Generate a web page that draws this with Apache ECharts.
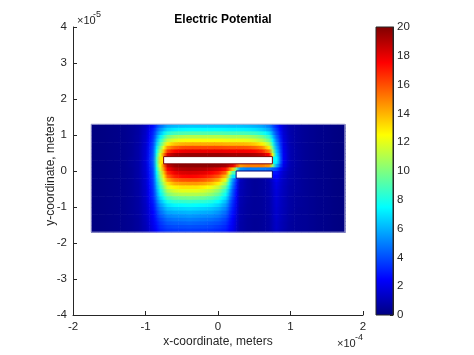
<!DOCTYPE html>
<html>
<head>
<meta charset="utf-8">
<script src="https://cdn.jsdelivr.net/npm/echarts@6/dist/echarts.min.js"></script>
<style>
  html, body { margin: 0; background: #fff; }
  #chart { width: 474px; height: 355px; }
</style>
</head>
<body>
<div id="chart"></div>
<script>
// x in units of 1e-4 m, y in units of 1e-5 m, potential in volts
const xCenters = [-1.7, -1.6, -1.5, -1.4, -1.3, -1.2, -1.1, -1.0, -0.9, -0.8, -0.7, -0.6, -0.5, -0.4, -0.3, -0.2, -0.1, 0,
  0.1, 0.2, 0.3, 0.4, 0.5, 0.6, 0.7, 0.8, 0.9, 1.0, 1.1, 1.2, 1.3, 1.4, 1.5, 1.6, 1.7]
const yCenters = [1.25, 1.15, 1.05, 0.95, 0.85, 0.75, 0.65, 0.55, 0.45, 0.35, 0.25, 0.15, 0.05, -0.05, -0.15,
  -0.25, -0.35, -0.45, -0.55, -0.65, -0.75, -0.85, -0.95, -1.05, -1.15, -1.25, -1.35, -1.45, -1.55, -1.65]

// one row per yCenters entry, one value per xCenters entry (null = inside an electrode)
const _ = null
const potential = [
  [0.05,0.1,0.15,0.2,0.3,0.45, 0.65,1.3,2.7,4.6, 5.8,6.1,6.3,6.4,6.4,6.4,6.4, 6.4,6.4,6.3, 6.3,6.2,6.0,5.7,5.0, 3.2,1.5,0.8,0.6, 0.45,0.35,0.25,0.2,0.1,0.05],
  [0.05,0.1,0.15,0.2,0.3,0.45, 0.7,1.4,3.0,5.4, 6.8,7.2,7.4,7.5,7.5,7.5,7.5, 7.5,7.4,7.3, 7.3,7.2,7.0,6.6,5.8, 3.6,1.6,0.85,0.6, 0.45,0.35,0.25,0.2,0.1,0.05],
  [0.05,0.1,0.15,0.2,0.3,0.45, 0.7,1.45,3.2,6.2, 8.2,8.8,9.0,9.1,9.1,9.1,9.1, 9.1,9.0,8.9, 8.9,8.8,8.6,8.1,7.0, 4.0,1.7,0.85,0.6, 0.45,0.35,0.25,0.2,0.1,0.05],
  [0.05,0.1,0.15,0.2,0.3,0.45, 0.75,1.5,3.4,7.2, 9.8,10.6,10.9,11.0,11.0,11.0,11.0, 11.0,10.9,10.8, 10.8,10.7,10.4,9.8,8.4, 4.5,1.8,0.9,0.6, 0.45,0.35,0.25,0.2,0.1,0.05],
  [0.05,0.1,0.15,0.2,0.3,0.45, 0.75,1.55,3.6,8.2, 11.2,12.0,12.3,12.4,12.4,12.4,12.4, 12.4,12.3,12.2, 12.2,12.1,11.8,11.1,9.6, 5.0,1.9,0.9,0.6, 0.45,0.35,0.25,0.2,0.1,0.05],
  [0.05,0.1,0.15,0.2,0.3,0.45, 0.75,1.6,3.8,9.0, 12.8,13.7,14.0,14.1,14.1,14.1,14.1, 14.1,14.0,13.9, 13.9,13.8,13.5,12.8,11.0, 5.5,2.0,0.9,0.6, 0.45,0.35,0.25,0.2,0.1,0.05],
  [0.05,0.1,0.15,0.2,0.3,0.45, 0.8,1.65,4.0,10.0, 14.6,15.6,16.0,16.1,16.1,16.1,16.1, 16.1,16.0,15.9, 15.9,15.8,15.5,14.8,12.8, 6.0,2.1,0.95,0.6, 0.45,0.35,0.25,0.2,0.1,0.05],
  [0.05,0.1,0.15,0.2,0.3,0.45, 0.8,1.7,4.1,11.0, 16.4,17.4,17.8,17.9,17.9,17.9,17.9, 17.9,17.8,17.7, 17.7,17.6,17.4,16.8,15.0, 6.5,2.2,0.95,0.65, 0.45,0.35,0.25,0.2,0.1,0.05],
  [0.05,0.1,0.15,0.2,0.3,0.45, 0.8,1.7,4.2,12.0, 18.2,19.1,19.4,19.5,19.5,19.5,19.5, 19.5,19.4,19.3, 19.3,19.3,19.1,18.7,17.5, 7.0,2.3,0.95,0.65, 0.45,0.35,0.25,0.2,0.1,0.05],
  [0.05,0.1,0.15,0.2,0.3,0.5, 0.8,1.75,4.3,13.0, _,_,_,_,_,_,_, _,_,_, _,_,_,_,_, 7.5,2.3,0.95,0.65, 0.45,0.35,0.25,0.2,0.1,0.05],
  [0.05,0.1,0.15,0.2,0.3,0.5, 0.8,1.75,4.3,13.0, _,_,_,_,_,_,_, _,_,_, _,_,_,_,_, 7.3,2.3,0.95,0.65, 0.45,0.35,0.25,0.2,0.1,0.05],
  [0.05,0.1,0.15,0.2,0.3,0.5, 0.8,1.7,4.2,12.4, 18.6,19.5,19.7,19.7,19.7,19.7,19.7, 19.6,19.3,18.0, 14.5,15.0,15.0,15.0,14.5, 6.0,2.1,0.95,0.65, 0.45,0.35,0.25,0.2,0.1,0.05],
  [0.05,0.1,0.15,0.2,0.3,0.45, 0.8,1.7,4.0,11.6, 17.6,18.7,19.0,19.1,19.0,18.9,18.6, 18.2,17.2,13.5, 5.5,5.0,5.0,5.0,4.8, 3.8,1.8,0.9,0.6, 0.45,0.35,0.25,0.2,0.1,0.05],
  [0.05,0.1,0.15,0.2,0.3,0.45, 0.8,1.65,3.9,10.8, 16.6,17.8,18.2,18.3,18.2,18.0,17.6, 17.0,15.5,9.0, _,_,_,_,_, 2.8,1.5,0.85,0.6, 0.45,0.35,0.25,0.2,0.1,0.05],
  [0.05,0.1,0.15,0.2,0.3,0.45, 0.8,1.6,3.8,10.2, 15.6,16.9,17.4,17.5,17.4,17.1,16.6, 15.8,13.8,7.0, _,_,_,_,_, 2.5,1.4,0.8,0.6, 0.45,0.35,0.25,0.2,0.1,0.05],
  [0.05,0.1,0.15,0.2,0.3,0.45, 0.8,1.6,3.7,9.6, 14.3,15.5,15.9,16.0,16.0,15.7,15.2, 14.3,12.0,5.5, 1.3,0.7,0.5,0.6,1.0, 2.2,1.3,0.8,0.6, 0.45,0.35,0.25,0.2,0.1,0.05],
  [0.05,0.1,0.15,0.2,0.3,0.45, 0.75,1.6,3.6,9.0, 13.0,14.1,14.4,14.5,14.5,14.2,13.7, 12.8,10.6,5.0, 1.2,0.7,0.5,0.6,0.9, 2.0,1.25,0.8,0.6, 0.45,0.35,0.25,0.2,0.1,0.05],
  [0.05,0.1,0.15,0.2,0.3,0.45, 0.75,1.55,3.5,8.4, 11.8,12.7,13.0,13.0,13.0,12.7,12.2, 11.3,9.3,4.6, 1.2,0.7,0.5,0.6,0.9, 1.9,1.2,0.75,0.6, 0.45,0.35,0.25,0.2,0.1,0.05],
  [0.05,0.1,0.15,0.2,0.3,0.45, 0.75,1.5,3.4,7.8, 10.9,11.7,12.0,12.0,12.0,11.7,11.2, 10.3,8.4,4.2, 1.1,0.7,0.5,0.6,0.9, 1.8,1.2,0.75,0.6, 0.45,0.35,0.25,0.2,0.1,0.05],
  [0.05,0.1,0.15,0.2,0.3,0.45, 0.75,1.5,3.3,7.3, 10.0,10.7,11.0,11.0,11.0,10.8,10.3, 9.4,7.7,4.0, 1.1,0.7,0.5,0.6,0.85, 1.75,1.15,0.75,0.55, 0.45,0.35,0.25,0.2,0.1,0.05],
  [0.05,0.1,0.15,0.2,0.3,0.45, 0.7,1.45,3.2,6.7, 8.9,9.5,9.7,9.8,9.7,9.5,9.1, 8.4,6.9,3.7, 1.0,0.65,0.5,0.55,0.85, 1.7,1.15,0.7,0.55, 0.45,0.35,0.25,0.2,0.1,0.05],
  [0.05,0.1,0.15,0.2,0.3,0.45, 0.7,1.4,3.0,6.1, 7.9,8.4,8.5,8.6,8.5,8.4,8.1, 7.5,6.2,3.4, 1.0,0.65,0.5,0.55,0.8, 1.65,1.1,0.7,0.55, 0.45,0.35,0.25,0.2,0.1,0.05],
  [0.05,0.1,0.15,0.2,0.3,0.45, 0.7,1.35,2.8,5.5, 7.0,7.4,7.5,7.6,7.5,7.4,7.2, 6.7,5.6,3.2, 0.95,0.6,0.5,0.55,0.8, 1.6,1.1,0.7,0.55, 0.45,0.35,0.25,0.2,0.1,0.05],
  [0.05,0.1,0.15,0.2,0.3,0.45, 0.7,1.3,2.7,5.0, 6.3,6.6,6.7,6.8,6.7,6.6,6.4, 6.0,5.1,3.0, 0.9,0.6,0.5,0.55,0.8, 1.55,1.05,0.7,0.5, 0.45,0.35,0.25,0.2,0.1,0.05],
  [0.05,0.1,0.15,0.2,0.3,0.45, 0.65,1.3,2.5,4.6, 5.7,5.9,6.0,6.1,6.0,5.9,5.8, 5.4,4.6,2.8, 0.9,0.6,0.5,0.5,0.75, 1.5,1.05,0.65,0.5, 0.45,0.35,0.25,0.2,0.1,0.05],
  [0.05,0.1,0.15,0.2,0.3,0.45, 0.65,1.25,2.4,4.2, 5.1,5.3,5.4,5.5,5.4,5.3,5.2, 4.9,4.2,2.6, 0.85,0.6,0.5,0.5,0.75, 1.5,1.0,0.65,0.5, 0.45,0.35,0.25,0.2,0.1,0.05],
  [0.05,0.1,0.15,0.2,0.3,0.4, 0.6,1.2,2.3,3.8, 4.6,4.8,4.9,5.0,4.9,4.8,4.7, 4.4,3.8,2.4, 0.85,0.55,0.45,0.5,0.7, 1.45,1.0,0.65,0.5, 0.45,0.35,0.25,0.2,0.1,0.05],
  [0.05,0.1,0.15,0.2,0.3,0.4, 0.6,1.15,2.2,3.5, 4.2,4.35,4.4,4.5,4.4,4.35,4.2, 4.0,3.5,2.3, 0.8,0.55,0.45,0.5,0.7, 1.4,0.95,0.6,0.5, 0.45,0.35,0.25,0.2,0.1,0.05],
  [0.05,0.1,0.15,0.2,0.3,0.4, 0.6,1.1,2.1,3.3, 3.8,3.95,4.0,4.05,4.0,3.95,3.85, 3.6,3.2,2.2, 0.8,0.55,0.45,0.5,0.7, 1.4,0.95,0.6,0.5, 0.45,0.35,0.25,0.2,0.1,0.05],
  [0.05,0.1,0.15,0.2,0.3,0.4, 0.6,1.1,2.0,3.1, 3.5,3.6,3.65,3.7,3.65,3.6,3.5, 3.3,3.0,2.1, 0.8,0.55,0.45,0.5,0.7, 1.35,0.9,0.6,0.5, 0.45,0.35,0.25,0.2,0.1,0.05],
]

// [x0, y0, volts, x1, y1]
const electrodes = [[-0.75, 0.2, 20, 0.75, 0.4], [0.25, -0.2, 0, 0.75, 0]]
// [x0, y0, x1, y1]
const domain = [[-1.75, -1.7, 1.75, 1.3]]
const colorRange = [[0, 20]]

const CELL_W = 0.1
const CELL_H = 0.1
const V_MAX = 20
const INK = '#262626'
const FONT = '"Liberation Sans", Arial, sans-serif'
const JET = ['#00007f', '#0000ff', '#007fff', '#00ffff', '#7fff7f', '#ffff00', '#ff7f00', '#ff0000', '#7f0000']

const jet = (v) => echarts.color.lerp(Math.max(0, Math.min(1, v / V_MAX)), JET)

// [x, y, value, row, col]
const cells = []
potential.forEach((row, r) => {
  row.forEach((v, k) => {
    if (v !== null) cells.push([xCenters[k], yCenters[r], v, r, k])
  })
})

// colour at a cell side: blend with the neighbour, like MATLAB's interpolated shading
function sideColor(r, k, dk) {
  const v = potential[r][k]
  const n = potential[r][k + dk]
  return jet(n === null || n === undefined ? v : (v + n) / 2)
}

const chart = echarts.init(document.getElementById('chart'), null, { renderer: 'canvas' })

const option = {
  animation: false,
  backgroundColor: '#fff',
  textStyle: { fontFamily: FONT },
  title: {
    text: 'Electric Potential',
    left: 218,
    textAlign: 'center',
    top: 9,
    textStyle: { fontSize: 12, fontWeight: 'bold', color: '#000', fontFamily: FONT },
  },
  grid: [
    { left: 73, top: 27, width: 290, height: 288 },
    { left: 376, top: 27, width: 17, height: 288 },
  ],
  xAxis: [
    {
      gridIndex: 0, type: 'value', min: -2, max: 2, interval: 1,
      axisLine: { onZero: false, lineStyle: { color: INK, width: 1 } },
      axisTick: { inside: true, length: 4, lineStyle: { color: INK } },
      axisLabel: { color: INK, fontSize: 11.5, margin: 6, fontFamily: FONT },
      splitLine: { show: false },
      name: 'x-coordinate, meters', nameLocation: 'middle', nameGap: 21, nameMoveOverlap: false,
      nameTextStyle: { color: INK, fontSize: 12, fontFamily: FONT },
    },
    { gridIndex: 1, type: 'value', min: 0, max: 1, show: false },
  ],
  yAxis: [
    {
      gridIndex: 0, type: 'value', min: -4, max: 4, interval: 1,
      axisLine: { onZero: false, lineStyle: { color: INK, width: 1 } },
      axisTick: { inside: true, length: 4, lineStyle: { color: INK } },
      axisLabel: { color: INK, fontSize: 11.5, margin: 6, fontFamily: FONT },
      splitLine: { show: false },
      name: 'y-coordinate, meters', nameLocation: 'middle', nameGap: 16, nameMoveOverlap: false,
      nameTextStyle: { color: INK, fontSize: 12, fontFamily: FONT },
    },
    {
      gridIndex: 1, type: 'value', min: 0, max: 20, interval: 2, position: 'right',
      axisLine: { show: true, onZero: false, lineStyle: { color: INK, width: 1 } },
      axisTick: { inside: true, length: 3, lineStyle: { color: INK } },
      axisLabel: { color: INK, fontSize: 11.5, margin: 4, fontFamily: FONT },
      splitLine: { show: false },
    },
  ],
  series: [
    {
      type: 'custom',
      xAxisIndex: 0, yAxisIndex: 0,
      progressive: 0,
      data: cells,
      renderItem: (params, api) => {
        const x = api.value(0)
        const y = api.value(1)
        const r = api.value(3)
        const k = api.value(4)
        const p0 = api.coord([x - CELL_W / 2, y + CELL_H / 2])
        const p1 = api.coord([x + CELL_W / 2, y - CELL_H / 2])
        return {
          type: 'rect',
          shape: { x: p0[0], y: p0[1], width: p1[0] - p0[0] + 0.6, height: p1[1] - p0[1] + 0.6 },
          style: {
            fill: new echarts.graphic.LinearGradient(0, 0, 1, 0, [
              { offset: 0, color: sideColor(r, k, -1) },
              { offset: 0.5, color: jet(api.value(2)) },
              { offset: 1, color: sideColor(r, k, 1) },
            ]),
          },
        }
      },
    },
    {
      // electrodes: white holes outlined in their own potential colour
      type: 'custom',
      xAxisIndex: 0, yAxisIndex: 0,
      data: electrodes,
      z: 3,
      renderItem: (params, api) => {
        const p0 = api.coord([api.value(0), api.value(4)])
        const p1 = api.coord([api.value(3), api.value(1)])
        return {
          type: 'rect',
          shape: { x: p0[0], y: p0[1], width: p1[0] - p0[0], height: p1[1] - p0[1] },
          style: { fill: '#fff', stroke: jet(api.value(2)), lineWidth: 1 },
        }
      },
    },
    {
      type: 'custom',
      xAxisIndex: 0, yAxisIndex: 0,
      data: domain,
      z: 4,
      renderItem: (params, api) => {
        const p0 = api.coord([api.value(0), api.value(3)])
        const p1 = api.coord([api.value(2), api.value(1)])
        return {
          type: 'rect',
          shape: { x: p0[0], y: p0[1], width: p1[0] - p0[0], height: p1[1] - p0[1] },
          style: { fill: 'none', stroke: '#a9a9d6', lineWidth: 1 },
        }
      },
    },
    {
      // colorbar
      type: 'custom',
      xAxisIndex: 1, yAxisIndex: 1,
      data: colorRange,
      renderItem: (params, api) => {
        const p0 = api.coord([0, api.value(1)])
        const p1 = api.coord([1, api.value(0)])
        const stops = JET.map((c, i) => ({ offset: i / (JET.length - 1), color: c }))
        return {
          type: 'rect',
          shape: { x: p0[0], y: p0[1], width: p1[0] - p0[0], height: p1[1] - p0[1] },
          style: {
            fill: new echarts.graphic.LinearGradient(0, 1, 0, 0, stops),
            stroke: INK,
            lineWidth: 1,
          },
        }
      },
    },
  ],
  graphic: [
    { type: 'text', left: 77, top: 15, style: { text: '×10', fontSize: 11, fill: INK, fontFamily: FONT } },
    { type: 'text', left: 93, top: 10, style: { text: '-5', fontSize: 9, fill: INK, fontFamily: FONT } },
    { type: 'text', left: 337, top: 338, style: { text: '×10', fontSize: 11, fill: INK, fontFamily: FONT } },
    { type: 'text', left: 355, top: 333, style: { text: '-4', fontSize: 9, fill: INK, fontFamily: FONT } },
  ],
}

chart.setOption(option)
</script>
</body>
</html>
